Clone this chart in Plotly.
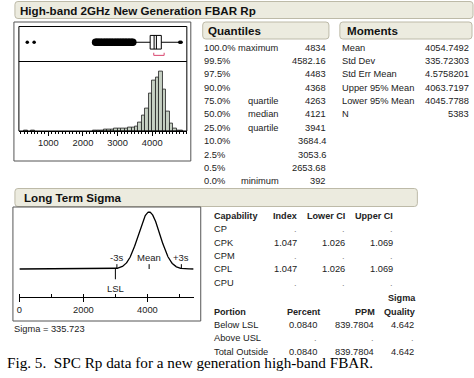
import numpy as np
import plotly.graph_objects as go

W, H = 474, 378

# ---------------- data ----------------
title_text = "High-band 2GHz New Generation FBAR Rp"
caption_text = "Fig. 5.\u00a0\u00a0SPC Rp data for a new generation high-band FBAR."

bin_starts = [300, 500, 2300, 2400, 2500, 2600, 2700, 2800, 2900, 3000, 3100, 3200,
              3300, 3400, 3500, 3600, 3700, 3800, 3900, 4000, 4100, 4200, 4300, 4400,
              4500, 4600, 4700, 4800]
bin_counts = [1, 1, 4, 10, 12, 16, 22, 25, 32, 34, 36, 45,
              55, 58, 69, 130, 235, 350, 580, 780, 830, 935, 650, 300,
              120, 32, 15, 6]
bin_width = 100

box_q1 = 3941
box_median = 4121
box_q3 = 4263
box_lower_whisker = 3458
box_upper_whisker = 4746
box_mean = 4054.7492
outliers_low = [392, 590, 2365, 2400, 2440, 2490, 2530, 2580, 2630, 2670, 2720, 2760,
                2810, 2850, 2900, 2950, 2990, 3040, 3080, 3130, 3170, 3220, 3260,
                3310, 3350, 3400, 3440]
outliers_high = [4795, 4834]
shortest_half = [4045, 4345]

quantile_pcts = ["100.0%", "99.5%", "97.5%", "90.0%", "75.0%", "50.0%", "25.0%",
                 "10.0%", "2.5%", "0.5%", "0.0%"]
quantile_names = ["maximum", "", "", "", "quartile", "median", "quartile", "", "", "", "minimum"]
quantile_values = ["4834", "4582.16", "4483", "4368", "4263", "4121", "3941",
                   "3684.4", "3053.6", "2653.68", "392"]

moment_names = ["Mean", "Std Dev", "Std Err Mean", "Upper 95% Mean", "Lower 95% Mean", "N"]
moment_values = ["4054.7492", "335.72303", "4.5758201", "4063.7197", "4045.7788", "5383"]

sigma_mean = 4054.7492
sigma_sd = 335.72303
lsl_value = 3000
sigma_label = "Sigma = 335.723"
sigma_axis_ticks = [0, 2000, 4000]

cap_headers = ["Capability", "Index", "Lower CI", "Upper CI"]
cap_names = ["CP", "CPK", "CPM", "CPL", "CPU"]
cap_index = [".", "1.047", ".", "1.047", "."]
cap_lower = [".", "1.026", ".", "1.026", "."]
cap_upper = [".", "1.069", ".", "1.069", "."]

portion_headers = ["Portion", "Percent", "PPM", "Quality"]
portion_names = ["Below LSL", "Above USL", "Total Outside"]
portion_percent = ["0.0840", ".", "0.0840"]
portion_ppm = ["839.7804", ".", "839.7804"]
portion_sigma = ["4.642", ".", "4.642"]

# ---------------- helpers ----------------
def fx(px):
    return px / W

def fy(py):
    return 1 - py / H

SANS = "Liberation Sans, Arial, sans-serif"
TXT = "#222222"
BAR_FILL = "#ecebdf"
BAR_LINE = "#bdbaa8"

shapes = []
annotations = []

def rounded_bar(x0, y0, x1, y1, r=3):
    rx, ry = r / W, r / H
    X0, X1 = fx(x0), fx(x1)
    Y0, Y1 = fy(y0), fy(y1)  # Y0 top (higher), Y1 bottom
    path = (f"M {X0+rx},{Y0} L {X1-rx},{Y0} Q {X1},{Y0} {X1},{Y0-ry} "
            f"L {X1},{Y1+ry} Q {X1},{Y1} {X1-rx},{Y1} L {X0+rx},{Y1} "
            f"Q {X0},{Y1} {X0},{Y1+ry} L {X0},{Y0-ry} Q {X0},{Y0} {X0+rx},{Y0} Z")
    shapes.append(dict(type="path", path=path, xref="paper", yref="paper",
                       fillcolor=BAR_FILL, line=dict(color=BAR_LINE, width=1), layer="below"))

def rect(x0, y0, x1, y1, color="#333", width=1):
    shapes.append(dict(type="rect", xref="paper", yref="paper",
                       x0=fx(x0), x1=fx(x1), y0=fy(y1), y1=fy(y0),
                       line=dict(color=color, width=width), fillcolor="rgba(0,0,0,0)"))

def hline(x0, x1, y, color="#000", width=1):
    shapes.append(dict(type="line", xref="paper", yref="paper",
                       x0=fx(x0), x1=fx(x1), y0=fy(y), y1=fy(y),
                       line=dict(color=color, width=width)))

def text(x, y, s, anchor="left", size=9.3, bold=False, color=TXT, family=SANS):
    if bold:
        s = "<b>" + s + "</b>"
    annotations.append(dict(x=fx(x), y=fy(y), xref="paper", yref="paper", text=s,
                            showarrow=False, xanchor=anchor, yanchor="middle",
                            font=dict(family=family, size=size, color=color),
                            borderpad=0))

# ---------------- header bars ----------------
rounded_bar(12, 1.5, 473, 18.5)
text(16, 10.5, title_text, size=11.6, bold=True, color="#111")
rounded_bar(201, 22, 328, 39)
text(205, 30.5, "Quantiles", size=11.6, bold=True, color="#111")
rounded_bar(339, 22, 472, 39)
text(345, 30.5, "Moments", size=11.6, bold=True, color="#111")
rounded_bar(12, 188.5, 417, 206.5)
text(20, 197.5, "Long Term Sigma", size=11.6, bold=True, color="#111")

# ---------------- frames ----------------
rect(11, 22, 189, 161, color="#555")
rect(16, 26.5, 185, 131, color="#000")
hline(16, 185, 61.5)
rect(10, 207, 199, 321, color="#555")

# ---------------- tables ----------------
row_step = 13.35
for i in range(len(quantile_pcts)):
    y = 47.7 + i * row_step
    text(201, y, quantile_pcts[i])
    if quantile_names[i]:
        text(279, y, quantile_names[i], anchor="right")
    text(326, y, quantile_values[i], anchor="right")

for i in range(len(moment_names)):
    y = 47.7 + i * row_step
    text(340, y, moment_names[i])
    text(469.5, y, moment_values[i], anchor="right")

cap_cols = [296.5, 345.5, 393]
text(211.5, 216, cap_headers[0], bold=True, size=9.1)
for c, h in zip(cap_cols, cap_headers[1:]):
    text(c, 216, h, anchor="right", bold=True, size=9.1)
for i in range(len(cap_names)):
    y = 229.4 + i * row_step
    text(211.5, y, cap_names[i])
    for c, v in zip(cap_cols, [cap_index[i], cap_lower[i], cap_upper[i]]):
        text(c, y, v, anchor="right", color=TXT if v != "." else "#888")

text(416.7, 298.3, "Sigma", anchor="right", bold=True, size=9.1)
text(211.5, 311.5, portion_headers[0], bold=True, size=9.1)
p_head_cols = [320, 375.7, 416.7]
for c, h in zip(p_head_cols, portion_headers[1:]):
    text(c, 311.5, h, anchor="right", bold=True, size=9.1)
p_cols = [317, 374, 415]
for i in range(len(portion_names)):
    y = 325 + i * row_step
    text(211.5, y, portion_names[i])
    for c, v in zip(p_cols, [portion_percent[i], portion_ppm[i], portion_sigma[i]]):
        text(c, y, v, anchor="right", color=TXT if v != "." else "#888")

text(10, 328.5, sigma_label)
text(3, 362.5, caption_text, size=15.2, family="Liberation Serif, Times New Roman, serif",
     color="#000")

# ---------------- traces ----------------
fig = go.Figure()

# histogram
fig.add_trace(go.Bar(x=[b + bin_width / 2 for b in bin_starts], y=bin_counts, width=bin_width,
                     marker=dict(color="#c6d0c3", line=dict(color="#222", width=0.8)),
                     xaxis="x", yaxis="y", showlegend=False))

# box plot
fig.add_trace(go.Box(q1=[box_q1], median=[box_median], q3=[box_q3],
                     lowerfence=[box_lower_whisker], upperfence=[box_upper_whisker],
                     y=[0], orientation="h", width=0.78, boxpoints=False,
                     fillcolor="white", line=dict(color="#000", width=1), whiskerwidth=0,
                     xaxis="x2", yaxis="y2", showlegend=False))
fig.add_trace(go.Scatter(x=[box_mean, box_mean], y=[-0.39, 0.39], mode="lines",
                         line=dict(color="#000", width=1), xaxis="x2", yaxis="y2",
                         showlegend=False))
fig.add_trace(go.Scatter(x=outliers_low + outliers_high,
                         y=[0] * (len(outliers_low) + len(outliers_high)),
                         mode="markers", marker=dict(color="#000", size=3.5),
                         xaxis="x2", yaxis="y2", showlegend=False))
dense = [v for v in outliers_low if v > 2000]
fig.add_trace(go.Scatter(x=dense, y=[0] * len(dense), mode="markers",
                         marker=dict(color="#000", size=7.5),
                         xaxis="x2", yaxis="y2", showlegend=False))
fig.add_trace(go.Scatter(x=[shortest_half[0], shortest_half[0], shortest_half[1], shortest_half[1]],
                         y=[-0.6, -0.75, -0.75, -0.6], mode="lines",
                         line=dict(color="#d9466f", width=1), xaxis="x2", yaxis="y2",
                         showlegend=False))

# long term sigma normal curve
xs = np.linspace(0, 5444, 500)
ys = np.exp(-0.5 * ((xs - sigma_mean) / sigma_sd) ** 2)
fig.add_trace(go.Scatter(x=xs, y=ys, mode="lines", line=dict(color="#000", width=1.3),
                         xaxis="x3", yaxis="y3", showlegend=False))
marks = [sigma_mean - 3 * sigma_sd, sigma_mean, sigma_mean + 3 * sigma_sd]
mx, my = [], []
for m in marks:
    mx += [m, m, None]
    my += [0, 0.085, None]
mx += [lsl_value, lsl_value]
my += [0, -0.18]
fig.add_trace(go.Scatter(x=mx, y=my, mode="lines", line=dict(color="#000", width=1),
                         xaxis="x3", yaxis="y3", showlegend=False))
for m, lab in zip(marks, ["-3s", "Mean", "+3s"]):
    annotations.append(dict(x=m, y=0.2, xref="x3", yref="y3", text=lab, showarrow=False,
                            xanchor="center", yanchor="middle",
                            font=dict(family=SANS, size=9.5, color=TXT)))
annotations.append(dict(x=lsl_value, y=-0.335, xref="x3", yref="y3", text="LSL",
                        showarrow=False, xanchor="center", yanchor="middle",
                        font=dict(family=SANS, size=9.5, color=TXT)))

# ---------------- layout ----------------
hist_dom_x = [fx(16), fx(185)]
fig.update_layout(
    width=W, height=H, margin=dict(l=0, r=0, t=0, b=0),
    paper_bgcolor="white", plot_bgcolor="rgba(0,0,0,0)",
    bargap=0,
    xaxis=dict(domain=hist_dom_x, range=[150, 5000], anchor="y", showgrid=False,
               zeroline=False, showline=True, linecolor="#000", linewidth=1,
               tickvals=[1000, 2000, 3000, 4000], ticks="outside", ticklen=4,
               tickcolor="#000", tickfont=dict(family=SANS, size=9.3, color=TXT),
               ticklabelstandoff=-1,
               minor=dict(tick0=0, dtick=100, ticks="outside", ticklen=2, tickcolor="#000",
                          showgrid=False)),
    yaxis=dict(domain=[fy(131), fy(61.5)], range=[0, 1083], visible=False, anchor="x"),
    xaxis2=dict(domain=hist_dom_x, range=[150, 5000], anchor="y2", visible=False),
    yaxis2=dict(domain=[fy(61.5), fy(26.5)], range=[-1.1, 0.9], visible=False, anchor="x2"),
    xaxis3=dict(domain=[fx(16.5), fx(191.8)], range=[0, 5444], anchor="y3", showgrid=False,
                zeroline=False, showline=True, linecolor="#000", linewidth=1,
                tickvals=sigma_axis_ticks, ticks="outside", ticklen=4, tickcolor="#000",
                tickfont=dict(family=SANS, size=9.3, color=TXT),
                minor=dict(tick0=0, dtick=1000, ticks="inside", ticklen=3, tickcolor="#000",
                           showgrid=False)),
    yaxis3=dict(domain=[fy(297), fy(207)], range=[-0.491, 1.088], visible=False, anchor="x3"),
    shapes=shapes,
    annotations=annotations,
)

fig.write_html("out.html", config={"displayModeBar": False},
               post_script="document.body.style.margin='0';document.body.style.overflow='hidden';")
